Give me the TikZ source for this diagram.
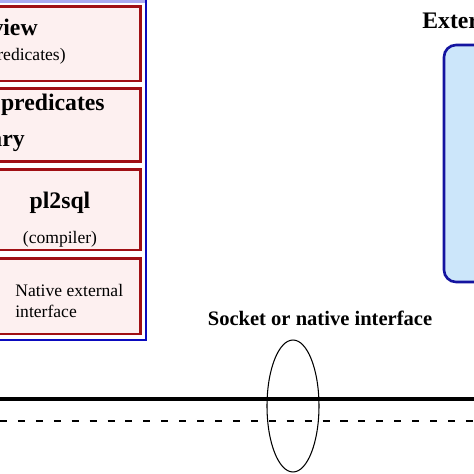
\documentclass[tikz,border=0pt]{standalone}
\usepackage{fontspec}
\setmainfont{Liberation Serif}
\usetikzlibrary{shapes.geometric}
\definecolor{boxred}{RGB}{160,15,20}
\definecolor{boxpink}{RGB}{253,240,240}
\definecolor{outblue}{RGB}{10,10,190}
\definecolor{extblue}{RGB}{20,20,160}
\definecolor{extfill}{RGB}{204,230,250}
\definecolor{bandblue}{RGB}{170,170,240}
\newcommand\boxtitle{\fontsize{13.5}{16}\selectfont\bfseries}
\newcommand\socktitle{\fontsize{11.7}{14}\selectfont\bfseries}

\begin{document}
\begin{tikzpicture}[x=0.02cm, y=-0.02cm,
  redbox/.style={draw=boxred, fill=boxpink, line width=1.7pt, rectangle, inner sep=0pt, minimum width=3.41cm},
  title/.style={font=\boxtitle, inner sep=0pt},
  plain/.style={font=\fontsize{10}{12}\selectfont, inner sep=0pt}]
\useasboundingbox (0,0) rectangle (474,474);
% left column
\fill[bandblue] (-40,-20) rectangle (145,3);
\draw[outblue, line width=1.4pt] (-40,-20) rectangle (146,340);
\node[redbox, minimum height=1.5cm] (view) at (55.25,43.5) {};
\node[redbox, minimum height=1.47cm] (lib) at (55.25,124.75) {};
\node[redbox, minimum height=1.61cm] (comp) at (55.25,209.75) {};
\node[redbox, minimum height=1.52cm] (nat) at (55.25,296) {};
\node[title, anchor=base east] (viewa) at (38,35) {view};
\node[plain, anchor=base east] (viewb) at (66,60) {(predicates)};
\node[title, anchor=base east] (liba) at (105,110) {predicates};
\node[title, anchor=base east] (libb) at (25,146) {ary};
\node[title, anchor=base] (compa) at (60,208) {pl2sql};
\node[plain, anchor=base] (compb) at (60,243) {(compiler)};
\node[plain, anchor=base west] (nata) at (15,296) {Native external};
\node[plain, anchor=base west] (natb) at (15,317) {interface};
% right side
\node[title, anchor=base west] (extlabel) at (422,28) {External};
\draw[extblue, fill=extfill, line width=1.5pt, rounded corners=0.24cm] (444,45) rectangle (540,282);
% link
\node[font=\socktitle, inner sep=0pt, anchor=base] (socklabel) at (320,325) {Socket or native interface};
\coordinate (sa) at (-5,399);
\coordinate (sb) at (480,399);
\coordinate (da) at (0,421);
\coordinate (db) at (480,421);
\draw[line width=2pt] (sa) -- (sb);
\draw[line width=1pt, dash pattern=on 4pt off 6.2pt] (da) -- (db);
\node[ellipse, draw, line width=0.6pt, minimum width=1.04cm, minimum height=2.64cm, inner sep=0pt] (sock) at (293,406) {};
\end{tikzpicture}
\end{document}
